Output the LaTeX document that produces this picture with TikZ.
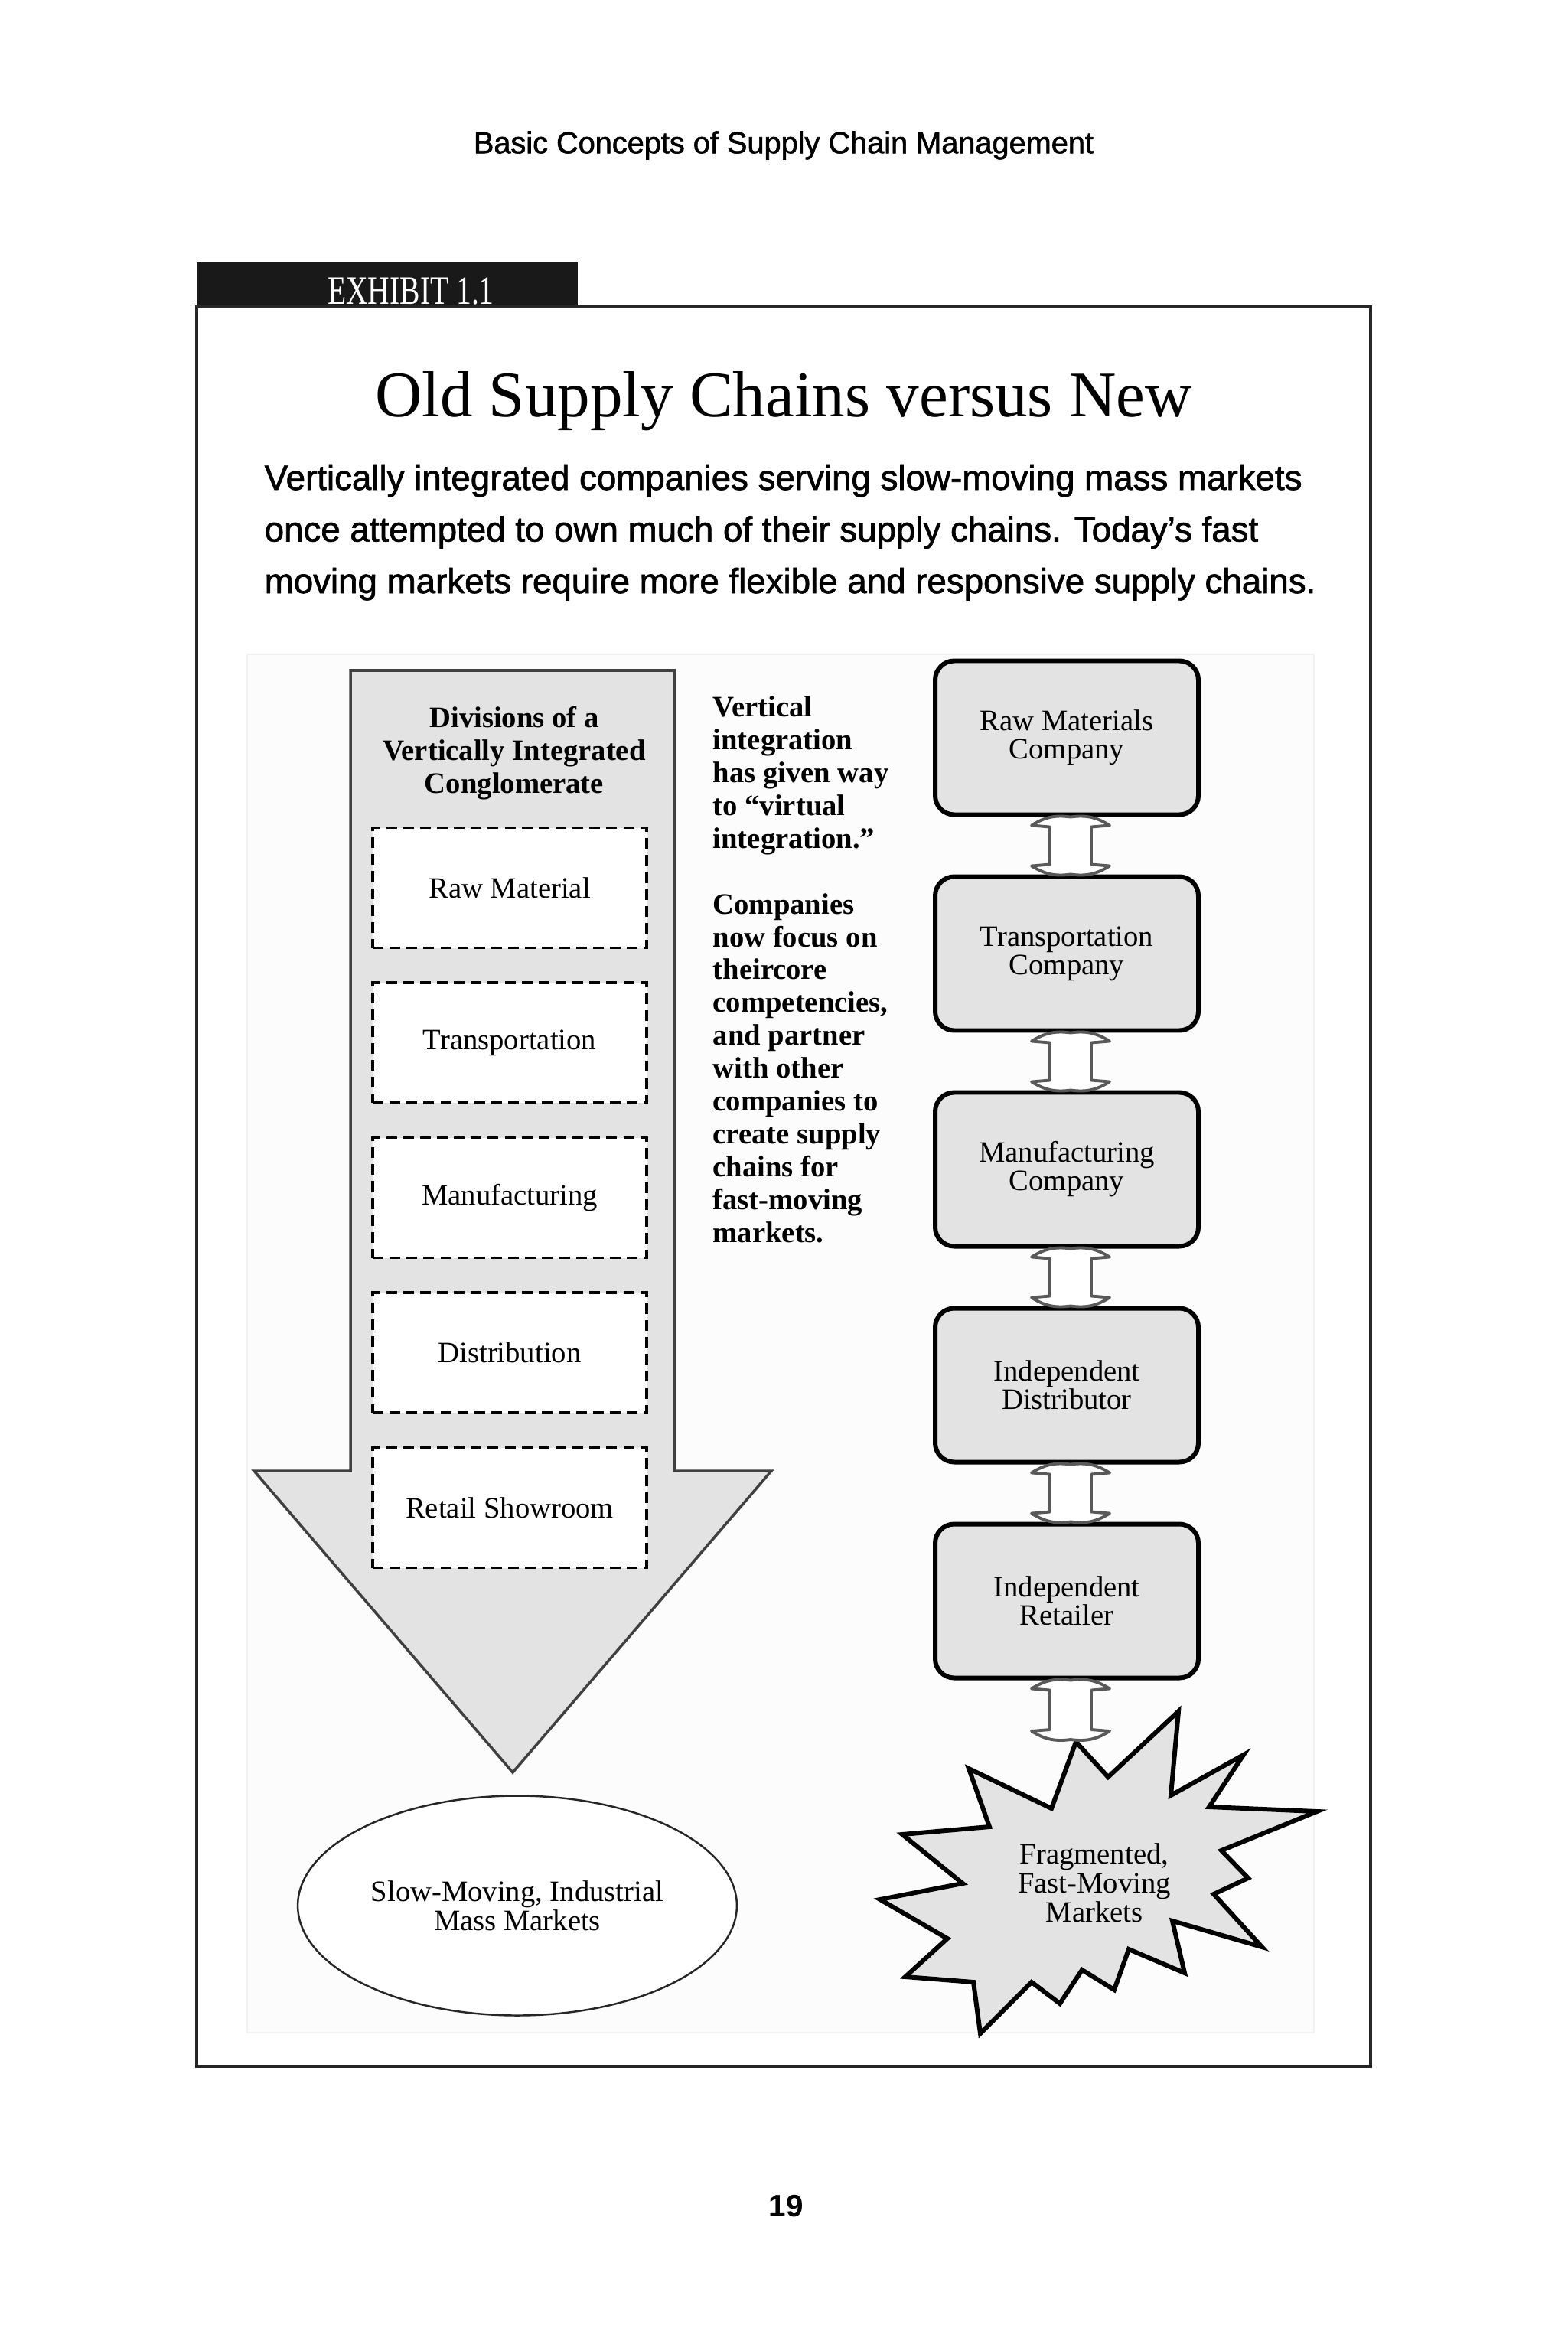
\documentclass[tikz,border=0pt]{standalone}
\usepackage{fontspec}
\usepackage{graphicx}
\setmainfont{Liberation Serif}
\newfontfamily\gothic{Liberation Sans}[UprightFeatures={FakeBold=1.5}]
\newfontfamily\plainsans{Liberation Sans}
\usetikzlibrary{positioning,calc,shapes.geometric}

\definecolor{exfill}{gray}{0.89}
\definecolor{exline}{gray}{0.25}
\definecolor{linkgray}{gray}{0.35}

\tikzset{
  division/.style={draw=black, line width=1.1pt, dash pattern=on 4pt off 2.3pt,
    fill=white, minimum width=3.58cm, minimum height=1.57cm, outer sep=0pt,
    font=\fontsize{11}{12}\selectfont},
  partner/.style={draw=black, line width=1.7pt, rounded corners=0.25cm, fill=exfill,
    minimum width=3.44cm, minimum height=2.01cm, outer sep=0pt, align=center,
    font=\fontsize{11}{10.5}\selectfont},
  linkarrow/.style={draw=linkgray, line width=1.1pt, fill=white, line join=round},
}

% hollow two-headed link between two anchors
\newcommand{\hollowlink}[2]{%
  \draw[linkarrow] let \p1=#1, \p2=#2 in
    (\x1+0.05cm,\y1-0.03cm) to[bend right=20] (\x1-0.46cm,\y1-0.14cm)
    -- (\x1-0.22cm,\y1-0.16cm) -- (\x1-0.22cm,\y2+0.16cm)
    -- (\x1-0.46cm,\y2+0.14cm) to[bend right=20] (\x1+0.05cm,\y2+0.03cm)
    to[bend right=20] (\x1+0.56cm,\y2+0.14cm) -- (\x1+0.32cm,\y2+0.16cm)
    -- (\x1+0.32cm,\y1-0.16cm) -- (\x1+0.56cm,\y1-0.14cm)
    to[bend right=20] (\x1+0.05cm,\y1-0.03cm) -- cycle;}

\begin{document}
\begin{tikzpicture}
  \useasboundingbox (0,0) rectangle (20.48,-30.72);
  \fill[white] (0,0) rectangle (20.48,-30.72);

  % Running head
  \node[font=\gothic\fontsize{11.3}{13}\selectfont] (runhead) at (10.24,-1.90)
    {Basic Concepts of Supply Chain Management};

  % Exhibit tab and frame
  \fill[black!90] (2.57,-3.43) rectangle (7.55,-4.02);
  \node[anchor=base, text=white, font=\fontsize{15}{15}\selectfont, inner sep=0pt] (exhibit)
    at (5.37,-3.98) {\scalebox{0.75}[1]{EXHIBIT 1.1}};
  \draw[black!85, line width=0.9pt] (2.57,-4.01) rectangle (17.91,-27.00);

  % Title and lead text
  \node[anchor=base, font=\fontsize{24.2}{28}\selectfont] (title) at (10.24,-5.45)
    {Old Supply Chains versus New};
  \node[anchor=base west, align=left, inner sep=0pt,
    font=\gothic\fontsize{13}{19.2}\selectfont] (intro) at (3.45,-7.75)
    {Vertically integrated companies serving slow-moving mass markets\\
     once attempted to own much of their supply chains. Today’s fast\\
     moving markets require more flexible and responsive supply chains.};

  % Diagram backdrop
  \filldraw[draw=black!5, fill=black!1] (3.23,-8.55) rectangle (17.17,-26.56);

  % Old chain: big arrow with divisions
  \filldraw[fill=exfill, draw=exline, line width=1pt]
    (4.58,-8.76) -- (8.81,-8.76) -- (8.81,-19.22) -- (10.08,-19.22)
    -- (6.70,-23.16) -- (3.32,-19.22) -- (4.58,-19.22) -- cycle;
  \node[align=center, font=\bfseries\fontsize{11}{12.2}\selectfont] (divtitle) at (6.72,-9.84)
    {Divisions of a\\Vertically Integrated\\Conglomerate};
  \node[division] (rawdiv) at (6.66,-11.60) {Raw Material};
  \node[division, below=0.455cm of rawdiv] (transdiv) {Transportation};
  \node[division, below=0.455cm of transdiv] (mfgdiv) {Manufacturing};
  \node[division, below=0.455cm of mfgdiv] (distdiv) {Distribution};
  \node[division, below=0.455cm of distdiv] (retaildiv) {Retail Showroom};

  \node[draw=black!85, line width=0.7pt, ellipse, fill=white, minimum width=5.45cm,
    minimum height=2.87cm, align=center, font=\fontsize{11}{10.8}\selectfont] (massmkt)
    at (6.76,-24.90) {Slow-Moving, Industrial\\Mass Markets};

  % Middle note
  \node[anchor=base west, align=left, inner sep=0pt,
    font=\bfseries\fontsize{11}{12.2}\selectfont] (shiftnote) at (9.31,-16.23)
    {Vertical\\integration\\has given way\\to “virtual\\integration.”\\[12.2pt]
     Companies\\now focus on\\theircore\\competencies,\\and partner\\with other\\
     companies to\\create supply\\chains for\\fast-moving\\markets.};

  % New chain: partner companies
  \node[partner] (rawco) at (13.94,-9.64) {Raw Materials\\Company};
  \node[partner, below=0.81cm of rawco] (transco) {Transportation\\Company};
  \node[partner, below=0.81cm of transco] (mfgco) {Manufacturing\\Company};
  \node[partner, below=0.81cm of mfgco] (distco) {Independent\\Distributor};
  \node[partner, below=0.81cm of distco] (retailco) {Independent\\Retailer};

  % Fragmented markets burst
  \filldraw[fill=exfill, draw=black, line width=1.7pt]
    (14.06,-22.76) -- (14.48,-23.22) -- (15.40,-22.36) -- (15.30,-23.46)
    -- (16.25,-22.93) -- (15.80,-23.61) -- (17.21,-23.67) -- (15.96,-24.18)
    -- (16.31,-24.54) -- (15.86,-24.75) -- (16.49,-25.44) -- (15.32,-25.10)
    -- (15.48,-25.78) -- (14.75,-25.47) -- (14.56,-26.00) -- (14.14,-25.74)
    -- (13.85,-26.18) -- (13.48,-25.90) -- (12.81,-26.57) -- (12.72,-25.90)
    -- (11.83,-25.83) -- (12.38,-25.33) -- (11.50,-24.82) -- (12.58,-24.61)
    -- (11.79,-23.97) -- (12.93,-23.87) -- (12.66,-23.11) -- (13.74,-23.63) -- cycle;
  \coordinate (bursttip) at (14.06,-22.76);
  \node[align=center, font=\fontsize{11}{10.8}\selectfont] (fastmkt) at (14.30,-24.60)
    {Fragmented,\\Fast-Moving\\Markets};

  % Links between partners
  \hollowlink{(rawco.south)}{(transco.north)}
  \hollowlink{(transco.south)}{(mfgco.north)}
  \hollowlink{(mfgco.south)}{(distco.north)}
  \hollowlink{(distco.south)}{(retailco.north)}
  \hollowlink{(retailco.south)}{(bursttip)}

  % Folio
  \node[font=\plainsans\bfseries\fontsize{11.5}{13}\selectfont] (folio) at (10.27,-28.83) {19};
\end{tikzpicture}
\end{document}
